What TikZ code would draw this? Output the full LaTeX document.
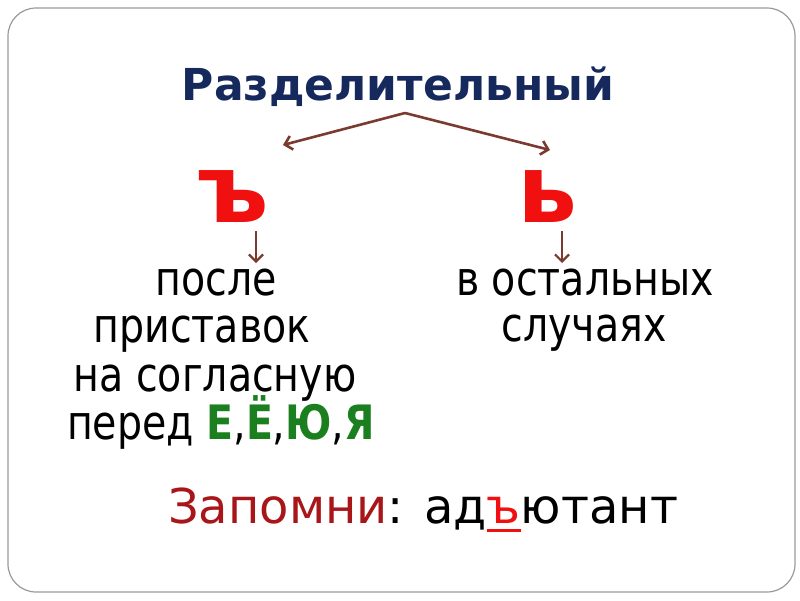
\documentclass[tikz,border=0pt]{standalone}
\usepackage{fontspec}
\setmainfont{DejaVu Sans}
\usetikzlibrary{arrows.meta}
\definecolor{navy}{HTML}{16295C}
\definecolor{arrbrown}{HTML}{7A3A30}
\definecolor{letred}{HTML}{F01010}
\definecolor{darkred}{HTML}{A8161A}
\definecolor{vowgreen}{HTML}{1B7F1F}
\newcommand\ulred[1]{\setbox0\hbox{{\color{letred}#1}}\rlap{\color{letred}\rule[-9pt]{\wd0}{3pt}}\box0}
\newcommand\tall[1]{\scalebox{1}[1.2]{#1}}
\begin{document}
\begin{tikzpicture}[x=1pt,y=-1pt,
  arr/.style={draw=arrbrown,line width=2.6pt,-{Straight Barb[length=7pt,width=14pt]}},
  body/.style={font=\fontsize{39.5}{48}\selectfont,align=center,inner sep=0pt},
  bigletter/.style={font=\fontsize{95}{100}\selectfont\bfseries,text=letred,inner sep=0pt}]
\useasboundingbox (0,0) rectangle (800,600);
\draw[gray!80,line width=1.2pt,rounded corners=28pt] (8,8) rectangle (795,592);
\node[anchor=base,inner sep=0pt,font=\fontsize{44}{50}\selectfont\bfseries,text=navy] (title) at (398,100) {Разделительный};
\coordinate (apex) at (405,113);
\coordinate (lt) at (283,145);
\coordinate (rt) at (550,150);
\draw[arr] (apex) -- (lt);
\draw[arr] (apex) -- (rt);
\node[bigletter,anchor=base] (hard) at (233,222) {ъ};
\node[bigletter,anchor=base] (soft) at (548,222) {ь};
\coordinate (ha) at (256,231);
\coordinate (hb) at (256,263);
\coordinate (sa) at (562,231);
\coordinate (sb) at (562,263);
\draw[arr,line width=2.2pt] (ha) -- (hb);
\draw[arr,line width=2.2pt] (sa) -- (sb);
\node[body,anchor=base] (l1) at (216,295) {\tall{после}};
\node[body,anchor=base] (l2) at (202,342) {\tall{приставок}};
\node[body,anchor=base] (l3) at (215,391) {\tall{на согласную}};
\node[body,anchor=base] (l4) at (221,439) {\tall{перед {\bfseries\color{vowgreen}Е},{\bfseries\color{vowgreen}Ё},{\bfseries\color{vowgreen}Ю},{\bfseries\color{vowgreen}Я}}};
\node[body,anchor=base] (r1) at (585,295) {\tall{в остальных}};
\node[body,anchor=base] (r2) at (584,341) {\tall{случаях}};
\node[body,anchor=base,font=\fontsize{48}{54}\selectfont] (mem) at (423,523) {{\color{darkred}Запомни}: ад\ulred{ъ}ютант};
\end{tikzpicture}
\end{document}
